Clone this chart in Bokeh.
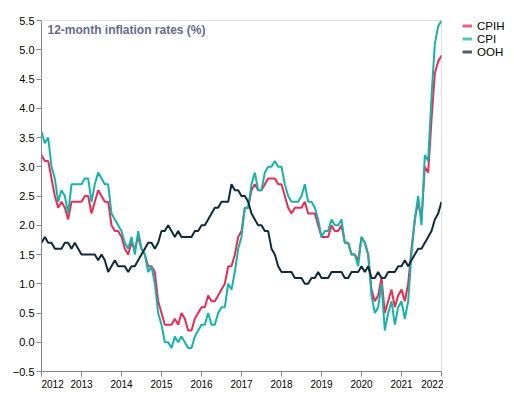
import pandas as pd
from bokeh.plotting import figure
from bokeh.layouts import row
from bokeh.models import (Range1d, FixedTicker, PrintfTickFormatter, Legend,
                          LegendItem, Label, ColumnDataSource)
from bokeh.embed import file_html
from bokeh.resources import INLINE

months = pd.date_range("2012-01-01", "2022-01-01", freq="MS")

cpih = [3.2, 3.1, 3.1, 2.8, 2.5, 2.3, 2.4, 2.3, 2.1, 2.4, 2.4, 2.4,
        2.4, 2.5, 2.5, 2.2, 2.4, 2.6, 2.5, 2.4, 2.4, 2.0, 1.9, 1.9,
        1.8, 1.6, 1.5, 1.7, 1.6, 1.8, 1.6, 1.5, 1.3, 1.3, 1.2, 0.7,
        0.5, 0.3, 0.3, 0.3, 0.4, 0.3, 0.5, 0.4, 0.2, 0.2, 0.4, 0.5,
        0.6, 0.6, 0.8, 0.7, 0.7, 0.8, 0.9, 1.0, 1.3, 1.3, 1.5, 1.8,
        1.9, 2.3, 2.3, 2.6, 2.7, 2.6, 2.6, 2.7, 2.8, 2.8, 2.8, 2.7,
        2.7, 2.5, 2.3, 2.2, 2.3, 2.3, 2.3, 2.4, 2.2, 2.2, 2.2, 2.0,
        1.8, 1.8, 1.8, 2.0, 1.9, 1.9, 2.0, 1.7, 1.7, 1.5, 1.5, 1.4,
        1.8, 1.7, 1.5, 0.9, 0.7, 0.8, 1.1, 0.5, 0.7, 0.9, 0.6, 0.8,
        0.9, 0.7, 1.0, 1.6, 2.1, 2.4, 2.1, 3.0, 2.9, 3.8, 4.6, 4.8,
        4.9]

cpi = [3.6, 3.4, 3.5, 3.0, 2.8, 2.4, 2.6, 2.5, 2.2, 2.7, 2.7, 2.7,
       2.7, 2.8, 2.8, 2.4, 2.7, 2.9, 2.8, 2.7, 2.7, 2.2, 2.1, 2.0,
       1.9, 1.7, 1.6, 1.8, 1.5, 1.9, 1.6, 1.5, 1.2, 1.3, 1.0, 0.5,
       0.3, 0.0, 0.0, -0.1, 0.1, 0.0, 0.1, 0.0, -0.1, -0.1, 0.1, 0.2,
       0.3, 0.3, 0.5, 0.3, 0.3, 0.5, 0.6, 0.6, 1.0, 0.9, 1.2, 1.6,
       1.8, 2.3, 2.3, 2.7, 2.9, 2.6, 2.6, 2.9, 3.0, 3.0, 3.1, 3.0,
       3.0, 2.7, 2.5, 2.4, 2.4, 2.4, 2.5, 2.7, 2.4, 2.4, 2.3, 2.1,
       1.8, 1.9, 1.9, 2.1, 2.0, 2.0, 2.1, 1.7, 1.7, 1.5, 1.5, 1.3,
       1.8, 1.7, 1.5, 0.8, 0.5, 0.6, 1.0, 0.2, 0.5, 0.7, 0.3, 0.6,
       0.7, 0.4, 0.7, 1.5, 2.1, 2.5, 2.0, 3.2, 3.1, 4.2, 5.1, 5.4,
       5.5]

ooh = [1.7, 1.8, 1.7, 1.7, 1.6, 1.6, 1.6, 1.7, 1.7, 1.6, 1.7, 1.6,
       1.5, 1.5, 1.5, 1.5, 1.5, 1.4, 1.5, 1.4, 1.2, 1.3, 1.4, 1.3,
       1.3, 1.3, 1.2, 1.3, 1.3, 1.4, 1.5, 1.6, 1.7, 1.7, 1.6, 1.7,
       1.9, 1.9, 2.0, 1.9, 1.8, 1.9, 1.8, 1.8, 1.8, 1.8, 1.9, 1.9,
       2.0, 2.0, 2.1, 2.2, 2.3, 2.3, 2.4, 2.4, 2.4, 2.7, 2.6, 2.6,
       2.5, 2.5, 2.4, 2.2, 2.1, 2.0, 2.0, 1.9, 1.9, 1.6, 1.5, 1.3,
       1.2, 1.2, 1.2, 1.2, 1.1, 1.1, 1.1, 1.0, 1.0, 1.1, 1.1, 1.2,
       1.1, 1.1, 1.1, 1.2, 1.2, 1.2, 1.2, 1.1, 1.1, 1.2, 1.2, 1.2,
       1.3, 1.2, 1.3, 1.1, 1.1, 1.2, 1.1, 1.1, 1.2, 1.2, 1.2, 1.3,
       1.3, 1.4, 1.3, 1.4, 1.5, 1.6, 1.6, 1.7, 1.8, 1.9, 2.1, 2.2,
       2.4]

series_names = ["CPIH", "CPI", "OOH"]
series_colors = ["#ee2a52", "#14b4aa", "#0f2a3c"]
year_ticks = list(range(2012, 2023))
year_labels = [str(y) for y in year_ticks]
y_ticks = [-0.5, 0.0, 0.5, 1.0, 1.5, 2.0, 2.5, 3.0, 3.5, 4.0, 4.5, 5.0, 5.5]
y_labels = ["\u22120.5", "0.0", "0.5", "1.0", "1.5", "2.0", "2.5", "3.0",
            "3.5", "4.0", "4.5", "5.0", "5.5"]
title_text = "12-month inflation rates (%)"

FONT = "Liberation Sans"
NBSP = "\u00a0"

x = [d.year + (d.month - 1) / 12 for d in months]
src = ColumnDataSource(dict(x=x, CPIH=cpih, CPI=cpi, OOH=ooh))

p = figure(width=443, height=406, output_backend="svg", toolbar_location=None,
           x_range=Range1d(year_ticks[0], year_ticks[-1]),
           y_range=Range1d(y_ticks[0], y_ticks[-1]),
           min_border_left=41, min_border_right=2,
           min_border_top=20, min_border_bottom=35)
p.background_fill_color = "white"
p.border_fill_color = "white"
p.outline_line_color = "#dddddd"
p.outline_line_width = 1
p.xgrid.visible = False
p.ygrid.visible = False

renderers = []
for name, color in zip(series_names, series_colors):
    r = p.line("x", name, source=src, line_color=color, line_width=2)
    renderers.append(r)

# axes
xa = p.xaxis[0]
xa.ticker = FixedTicker(ticks=year_ticks)
overrides = {t: l for t, l in zip(year_ticks, year_labels)}
# first label kept inside the frame width (padded with no-break spaces);
# the last one is held inside the canvas edge by Bokeh itself
overrides[year_ticks[0]] = NBSP * 8 + year_labels[0]
xa.major_label_overrides = overrides
ya = p.yaxis[0]
ya.ticker = FixedTicker(ticks=y_ticks)
ya.formatter = PrintfTickFormatter(format="%.1f")
ya.major_label_overrides = {t: l for t, l in zip(y_ticks, y_labels)}
for ax in (xa, ya):
    ax.axis_line_color = "#888888"
    ax.major_tick_line_color = "#888888"
    ax.minor_tick_line_color = None
    ax.major_tick_in = 0
    ax.major_tick_out = 5
    ax.major_label_standoff = 2
    ax.major_label_text_font = FONT
    ax.major_label_text_color = "#000000"
xa.major_label_text_font_size = "10px"
ya.major_label_text_font_size = "11px"

# title inside the frame
p.add_layout(Label(x=year_ticks[0], y=y_ticks[-1], text=title_text,
                   x_offset=6, y_offset=-2, text_align="left", text_baseline="top",
                   text_font=FONT, text_font_size="12px", text_font_style="bold",
                   text_color="#676b8c"))

# legend in a narrow companion figure on the right (its frame is aligned
# with the main frame by the row layout)
lp = figure(width=71, height=406, output_backend="svg", toolbar_location=None,
            title_location=None,
            x_axis_type=None, y_axis_type=None,
            x_range=Range1d(0, 1), y_range=Range1d(0, 1),
            min_border_left=0, min_border_right=0,
            min_border_top=0, min_border_bottom=0)
lp.outline_line_color = None
lp.background_fill_color = "white"
lp.border_fill_color = "white"
lp.xgrid.visible = False
lp.ygrid.visible = False
leg_items = []
for name, color in zip(series_names, series_colors):
    # same series, but outside this figure's view: only the legend swatch shows
    d = lp.line("x", name, source=src, line_color=color, line_width=3,
                line_alpha=0.75)
    leg_items.append(LegendItem(label=name, renderers=[d]))
legend = Legend(items=leg_items, location=(19, 313),
                border_line_color=None, background_fill_alpha=0,
                padding=0, margin=0, spacing=0,
                glyph_width=10, glyph_height=13, label_height=13,
                label_standoff=5, label_text_font=FONT,
                label_text_font_size="11.5px", label_text_color="#000000")
lp.add_layout(legend)

layout = row(p, lp, spacing=0)
open("out.html", "w").write(file_html(layout, INLINE))
